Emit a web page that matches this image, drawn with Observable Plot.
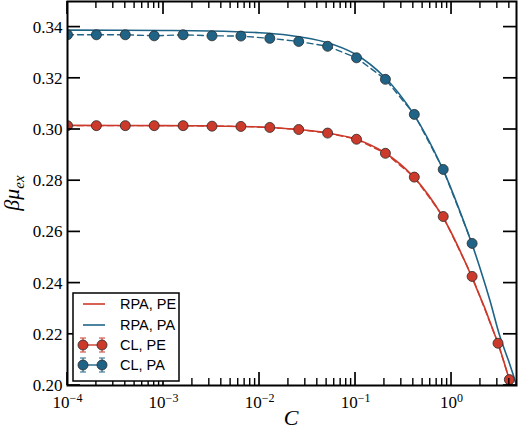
<!DOCTYPE html>
<html><head><meta charset="utf-8">
<script src="https://cdn.jsdelivr.net/npm/d3@7"></script>
<script src="https://cdn.jsdelivr.net/npm/@observablehq/plot@0.6"></script>
<style>body{margin:0;background:#fff;overflow:hidden}</style>
</head><body><div id="chart"></div>
<script>
// CL (simulation) points
const clC_PE = [1e-4, 2e-4, 4e-4, 8e-4, 1.6e-3, 3.2e-3, 6.4e-3, 0.0128, 0.0256, 0.0512, 0.1024, 0.2048, 0.4096, 0.8192, 1.6384, 3.05, 4.0];
const clPE   = [0.3015, 0.3015, 0.3015, 0.3015, 0.3015, 0.3013, 0.3012, 0.3008, 0.3000, 0.2986, 0.2962, 0.2907, 0.2814, 0.2660, 0.2426, 0.2165, 0.2023];
const clC_PA = [1e-4, 2e-4, 4e-4, 8e-4, 1.6e-3, 3.2e-3, 6.4e-3, 0.0128, 0.0256, 0.0512, 0.1024, 0.2048, 0.4096, 0.8192, 1.6384];
const clPA   = [0.3370, 0.3370, 0.3370, 0.3366, 0.3370, 0.3366, 0.3365, 0.3356, 0.3344, 0.3325, 0.3280, 0.3196, 0.3059, 0.2844, 0.2555];
// RPA curves
const rpaC_PE = [1e-4, 1e-3, 3e-3, 1e-2, 0.02, 0.05, 0.1, 0.2, 0.4, 0.8, 1.6, 3.0, 4.0, 4.4];
const rpaPE   = [0.3016, 0.3015, 0.3014, 0.3010, 0.3003, 0.2987, 0.2963, 0.2910, 0.2816, 0.2662, 0.2430, 0.2172, 0.2022, 0.1970];
const rpaC_PA = [1e-4, 1e-3, 3e-3, 1e-2, 0.02, 0.05, 0.1, 0.2, 0.4, 0.8, 1.6, 2.0, 2.5, 3.2, 4.0, 4.75, 5.0];
const rpaPA   = [0.3388, 0.3387, 0.3385, 0.3378, 0.3368, 0.3340, 0.3294, 0.3205, 0.3062, 0.2850, 0.2562, 0.2453, 0.2335, 0.2190, 0.2088, 0.2000, 0.1970];
// ticks
const xMajor = [1e-4, 1e-3, 1e-2, 1e-1, 1];
const xMinor = [];
for (let e = -4; e <= 0; e++) for (let m = 2; m <= 9; m++) { const v = m * Math.pow(10, e); if (v <= 4.75) xMinor.push(v); }
const yTicks = [0.20, 0.22, 0.24, 0.26, 0.28, 0.30, 0.32, 0.34];

const red = "#cc3a2b", blue = "#1f6487", edge = "#2a2a2a";
const pe = clC_PE.map((c, i) => ({c, v: clPE[i]}));
const pa = clC_PA.map((c, i) => ({c, v: clPA[i]}));
const rpe = rpaC_PE.map((c, i) => ({c, v: rpaPE[i]}));
const rpa = rpaC_PA.map((c, i) => ({c, v: rpaPA[i]}));

const W = 520, H = 431, ML = 67, MR = 4, MT = 1, MB = 46;
const MJ = 13, MN = 7;

const plot = Plot.plot({
  width: W, height: H,
  marginLeft: ML, marginRight: MR, marginTop: MT, marginBottom: MB,
  x: {type: "log", domain: [1e-4, 4.75]},
  y: {domain: [0.2, 0.35]},
  style: {fontFamily: "Liberation Serif", fontSize: "17px", color: "#000", background: "#fff"},
  marks: [
    Plot.line(rpe, {x: "c", y: "v", stroke: red, strokeWidth: 1.6, curve: "catmull-rom", clip: true}),
    Plot.line(rpa, {x: "c", y: "v", stroke: blue, strokeWidth: 1.6, curve: "catmull-rom", clip: true}),
    Plot.line(pe, {x: "c", y: "v", stroke: red, strokeWidth: 1.4, strokeDasharray: "6,4", clip: true}),
    Plot.line(pa, {x: "c", y: "v", stroke: blue, strokeWidth: 1.4, strokeDasharray: "6,4", clip: true}),
    Plot.dot(pe, {x: "c", y: "v", r: 5, fill: red, stroke: edge, strokeWidth: 0.8, clip: true}),
    Plot.dot(pa, {x: "c", y: "v", r: 5, fill: blue, stroke: edge, strokeWidth: 0.8, clip: true}),
    Plot.axisX(xMajor, {anchor: "bottom", tickSize: 0, tickPadding: 10, tickFormat: d => "E" + String(Math.round(Math.log10(d))), label: null}),
    Plot.axisY(yTicks, {anchor: "left", tickSize: 0, tickPadding: 5, tickFormat: d => d.toFixed(2), label: null}),
    Plot.frame({stroke: "#000", strokeWidth: 2})
  ]
});
document.getElementById("chart").appendChild(plot);

const svg = d3.select(plot);
const xs = plot.scale("x"), ys = plot.scale("y");
const yTopPx = MT, yBotPx = H - MB, xLeftPx = ML, xRightPx = W - MR;
const tk = svg.append("g").attr("stroke", "#000");
const addX = (vals, len, sw) => vals.forEach(v => {
  const x = xs.apply(v);
  tk.append("line").attr("x1", x).attr("x2", x).attr("y1", yBotPx).attr("y2", yBotPx - len).attr("stroke-width", sw);
  tk.append("line").attr("x1", x).attr("x2", x).attr("y1", yTopPx).attr("y2", yTopPx + len).attr("stroke-width", sw);
});
addX(xMajor, MJ, 1.7);
addX(xMinor, MN, 1.4);
yTicks.forEach(v => {
  const y = ys.apply(v);
  tk.append("line").attr("x1", xLeftPx).attr("x2", xLeftPx + MJ).attr("y1", y).attr("y2", y).attr("stroke-width", 1.7);
  tk.append("line").attr("x1", xRightPx).attr("x2", xRightPx - MJ).attr("y1", y).attr("y2", y).attr("stroke-width", 1.7);
});

// superscript tick labels
svg.selectAll("text").each(function () {
  const t = d3.select(this);
  const s = t.text();
  if (!/^E-?\d+$/.test(s)) return;
  const e = s.slice(1).replace("-", "\u2212");
  t.text("");
  t.append("tspan").text("10");
  t.append("tspan").attr("dy", "-0.45em").attr("font-size", "12px").text(e);
});
// axis labels
svg.append("text").attr("x", 291).attr("y", 425).attr("text-anchor", "middle")
  .attr("font-family", "Liberation Serif").attr("font-style", "italic").attr("font-size", 22).text("C");
const yl = svg.append("text").attr("transform", "translate(19,193) rotate(-90)").attr("text-anchor", "middle")
  .attr("font-family", "Liberation Serif").attr("font-style", "italic").attr("font-size", 22);
yl.append("tspan").text("βμ");
yl.append("tspan").attr("dy", 5).attr("font-size", 15).text("ex");

// legend
const lg = svg.append("g").attr("font-family", "Liberation Sans").attr("font-size", 14.5).attr("text-anchor", "start");
lg.append("rect").attr("x", 73).attr("y", 293).attr("width", 106).attr("height", 88)
  .attr("fill", "#fff").attr("stroke", "#000").attr("stroke-width", 1.5);
const entries = [
  {label: "RPA, PE", color: red, pts: false, y: 304},
  {label: "RPA, PA", color: blue, pts: false, y: 325},
  {label: "CL, PE", color: red, pts: true, y: 345},
  {label: "CL, PA", color: blue, pts: true, y: 365}
];
entries.forEach(d => {
  if (!d.pts) {
    lg.append("line").attr("x1", 83).attr("x2", 105).attr("y1", d.y).attr("y2", d.y).attr("stroke", d.color).attr("stroke-width", 1.6);
  } else {
    lg.append("line").attr("x1", 83).attr("x2", 102).attr("y1", d.y).attr("y2", d.y).attr("stroke", d.color).attr("stroke-width", 1.4);
    [83, 102].forEach(x => {
      lg.append("line").attr("x1", x).attr("x2", x).attr("y1", d.y - 7).attr("y2", d.y + 7).attr("stroke", d.color).attr("stroke-width", 1);
      lg.append("line").attr("x1", x - 3).attr("x2", x + 3).attr("y1", d.y - 7).attr("y2", d.y - 7).attr("stroke", d.color).attr("stroke-width", 1);
      lg.append("line").attr("x1", x - 3).attr("x2", x + 3).attr("y1", d.y + 7).attr("y2", d.y + 7).attr("stroke", d.color).attr("stroke-width", 1);
      lg.append("circle").attr("cx", x).attr("cy", d.y).attr("r", 5).attr("fill", d.color).attr("stroke", edge).attr("stroke-width", 0.8);
    });
  }
  lg.append("text").attr("x", 120).attr("y", d.y + 5).attr("fill", "#000").text(d.label);
});
</script>
</body></html>
